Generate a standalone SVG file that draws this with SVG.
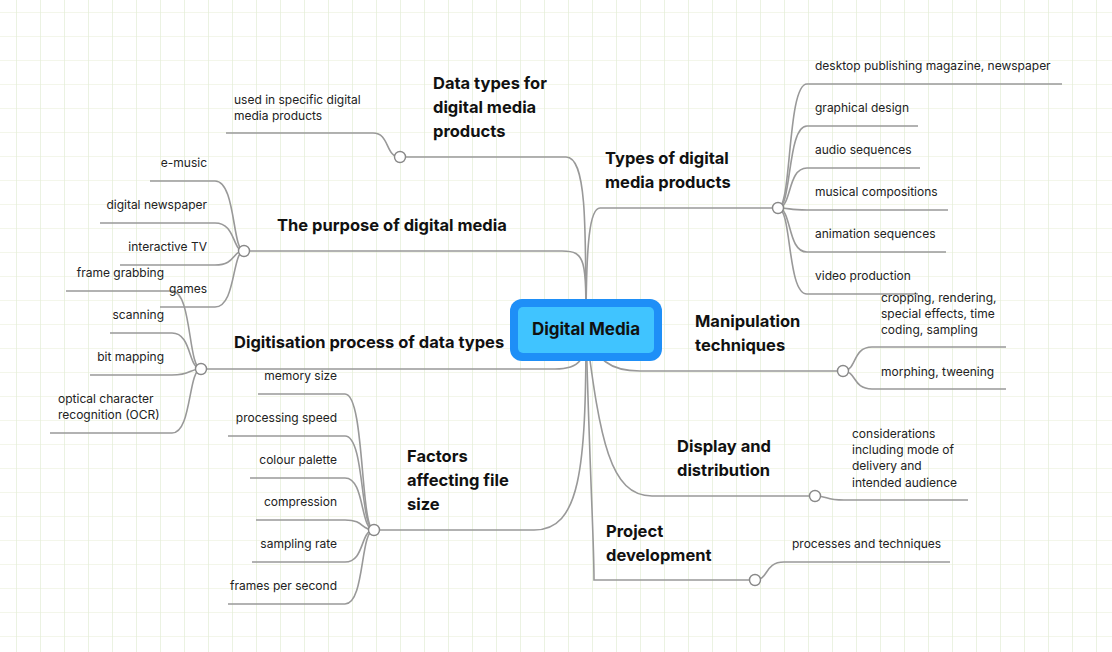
<svg xmlns="http://www.w3.org/2000/svg" width="1112" height="652" viewBox="0 0 1112 652">
<style>
.c{fill:none;stroke:#999;stroke-width:1.6}
.d{fill:#fff;stroke:#888;stroke-width:1.4}
.t{font-family:Inter,"Liberation Sans",sans-serif;font-size:16.5px;font-weight:bold;fill:#111}
.s{font-family:Inter,"Liberation Sans",sans-serif;font-size:12px;fill:#222}
.r{text-anchor:end}
</style>
<defs>
<pattern id="g" width="24" height="24" patternUnits="userSpaceOnUse" x="16" y="12">
<path d="M0 0H24" stroke="#f3f6ea" stroke-width="2"/>
<path d="M0 0V24" stroke="#e4eed8" stroke-width="1.5"/>
</pattern>
</defs>
<rect width="1112" height="652" fill="#fff"/>
<rect width="1112" height="652" fill="url(#g)"/>
<g id="connectors">
<path class="c" d="M586 330C586 220 586 157 566 157H400"/>
<path class="c" d="M586 330C586 260 586 251 562 251H244"/>
<path class="c" d="M586 330C586 360 580 369 555 369H201"/>
<path class="c" d="M586 330C586 470 580 530 534 530H374"/>
<path class="c" d="M586 330C586 240 590 208 600 208H778"/>
<path class="c" d="M586 330C596 360 610 371 640 371H843"/>
<path class="c" d="M586 330C600 440 610 496 652 496H815"/>
<path class="c" d="M586 330C590 480 594 540 594 580H755"/>
<path class="c" d="M400 157C385 157 390 133 373 133H226"/>
<path class="c" d="M244 251C232 251 236 181 215 181H150"/>
<path class="c" d="M244 251C232 251 236 223 215 223H100"/>
<path class="c" d="M244 251C232 251 236 265 215 265H120"/>
<path class="c" d="M244 251C232 251 236 307 215 307H160"/>
<path class="c" d="M201 369C188 369 192 291 172 291H66"/>
<path class="c" d="M201 369C188 369 192 333 172 333H110"/>
<path class="c" d="M201 369C188 369 192 375 172 375H90"/>
<path class="c" d="M201 369C188 369 192 433 172 433H50"/>
<path class="c" d="M374 530C360 530 365 394 345 394H258"/>
<path class="c" d="M374 530C360 530 365 436 345 436H228"/>
<path class="c" d="M374 530C360 530 365 478 345 478H250"/>
<path class="c" d="M374 530C360 530 365 520 345 520H256"/>
<path class="c" d="M374 530C360 530 365 562 345 562H252"/>
<path class="c" d="M374 530C360 530 365 604 345 604H228"/>
<path class="c" d="M778 208C792 208 787 84 807 84H1062"/>
<path class="c" d="M778 208C792 208 787 126 807 126H918"/>
<path class="c" d="M778 208C792 208 787 168 807 168H920"/>
<path class="c" d="M778 208C792 208 787 210 807 210H948"/>
<path class="c" d="M778 208C792 208 787 252 807 252H946"/>
<path class="c" d="M778 208C792 208 787 294 807 294H918"/>
<path class="c" d="M843 371C857 371 852 347 872 347H1006"/>
<path class="c" d="M843 371C857 371 852 389 872 389H1006"/>
<path class="c" d="M815 496C829 496 824 500 844 500H968"/>
<path class="c" d="M755 580C769 580 764 562 784 562H950"/>
</g>
<g id="center">
<rect x="510" y="299" width="152" height="62" rx="12" fill="#1e8ff7"/>
<rect x="518" y="307" width="136" height="46" rx="5" fill="#40c4ff"/>
<text x="586" y="335" text-anchor="middle" class="t" style="font-size:17px">Digital Media</text>
</g>
<g id="datatypes">
<circle class="d" cx="400" cy="157" r="5.5"/>
<text class="t" x="433"><tspan x="433" y="89">Data types for</tspan><tspan x="433" y="113">digital media</tspan><tspan x="433" y="137">products</tspan></text>
<text class="s"><tspan x="234" y="104">used in specific digital</tspan><tspan x="234" y="120">media products</tspan></text>
</g>
<g id="purpose">
<circle class="d" cx="244" cy="251" r="5.5"/>
<text class="t" x="277" y="231">The purpose of digital media</text>
<text class="s r" x="207" y="167">e-music</text>
<text class="s r" x="207" y="209">digital newspaper</text>
<text class="s r" x="207" y="251">interactive TV</text>
<text class="s r" x="207" y="293">games</text>
</g>
<g id="digitisation">
<circle class="d" cx="201" cy="369" r="5.5"/>
<text class="t" x="234" y="348">Digitisation process of data types</text>
<text class="s r" x="164" y="277">frame grabbing</text>
<text class="s r" x="164" y="319">scanning</text>
<text class="s r" x="164" y="361">bit mapping</text>
<text class="s"><tspan x="58" y="403">optical character</tspan><tspan x="58" y="419">recognition (OCR)</tspan></text>
</g>
<g id="factors">
<circle class="d" cx="374" cy="530" r="5.5"/>
<text class="t"><tspan x="407" y="462">Factors</tspan><tspan x="407" y="486">affecting file</tspan><tspan x="407" y="510">size</tspan></text>
<text class="s r" x="337" y="380">memory size</text>
<text class="s r" x="337" y="422">processing speed</text>
<text class="s r" x="337" y="464">colour palette</text>
<text class="s r" x="337" y="506">compression</text>
<text class="s r" x="337" y="548">sampling rate</text>
<text class="s r" x="337" y="590">frames per second</text>
</g>
<g id="types">
<circle class="d" cx="778" cy="208" r="5.5"/>
<text class="t"><tspan x="605" y="164">Types of digital</tspan><tspan x="605" y="188">media products</tspan></text>
<text class="s" x="815" y="70">desktop publishing magazine, newspaper</text>
<text class="s" x="815" y="112">graphical design</text>
<text class="s" x="815" y="154">audio sequences</text>
<text class="s" x="815" y="196">musical compositions</text>
<text class="s" x="815" y="238">animation sequences</text>
<text class="s" x="815" y="280">video production</text>
</g>
<g id="manipulation">
<circle class="d" cx="843" cy="371" r="5.5"/>
<text class="t"><tspan x="695" y="327">Manipulation</tspan><tspan x="695" y="351">techniques</tspan></text>
<text class="s"><tspan x="881" y="302">cropping, rendering,</tspan><tspan x="881" y="318">special effects, time</tspan><tspan x="881" y="334">coding, sampling</tspan></text>
<text class="s" x="881" y="376">morphing, tweening</text>
</g>
<g id="display">
<circle class="d" cx="815" cy="496" r="5.5"/>
<text class="t"><tspan x="677" y="452">Display and</tspan><tspan x="677" y="476">distribution</tspan></text>
<text class="s"><tspan x="852" y="438">considerations</tspan><tspan x="852" y="454">including mode of</tspan><tspan x="852" y="470">delivery and</tspan><tspan x="852" y="487">intended audience</tspan></text>
</g>
<g id="project">
<circle class="d" cx="755" cy="580" r="5.5"/>
<text class="t"><tspan x="606" y="537">Project</tspan><tspan x="606" y="561">development</tspan></text>
<text class="s" x="792" y="548">processes and techniques</text>
</g>
</svg>
